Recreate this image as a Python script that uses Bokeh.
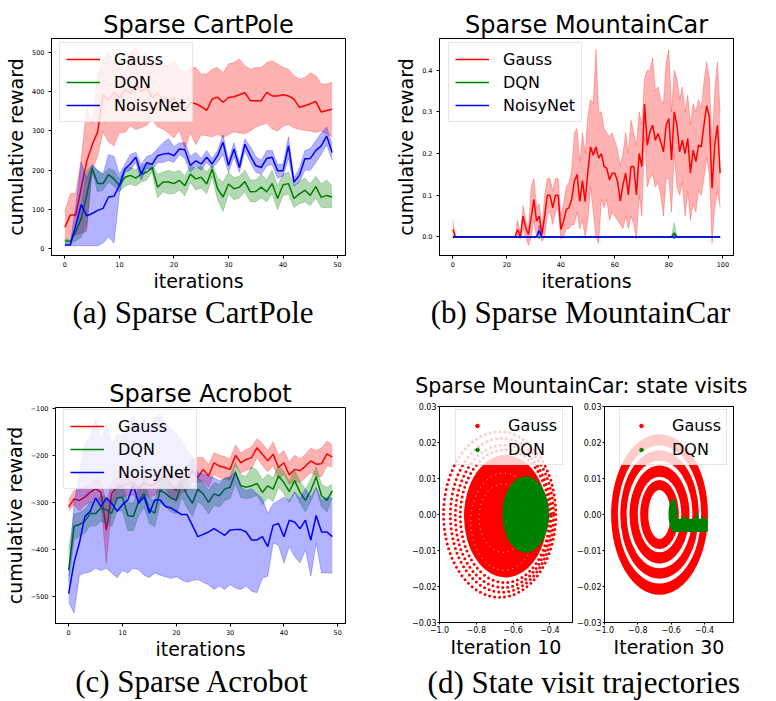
from bokeh.plotting import figure
from bokeh.layouts import row, column
from bokeh.models import Range1d, FixedTicker, Legend, LegendItem, Label
from bokeh.embed import file_html
from bokeh.resources import INLINE

SANS = "DejaVu Sans"
SERIF = "Liberation Serif"
RED, GREEN, BLUE = "#ff0000", "#008000", "#0000ff"
NAN = float("nan")

# ---------------- (a) Sparse CartPole ----------------
a_iterations = list(range(50))
a_gauss_mean = [55, 86, 86, 155, 222, 264, 297, 392, 378, 398,
                385, 405, 395, 420, 400, 410, 385, 395, 380, 370,
                385, 360, 350, 372, 369, 362, 352, 381, 386, 373,
                385, 387, 392, 397, 377, 377, 377, 398, 389, 389,
                392, 389, 381, 360, 364, 369, 375, 348, 352, 355]
a_gauss_upper = [95, 140, 142, 230, 360, 320, 440, 480, 500, 470,
                 480, 450, 500, 510, 490, 500, 470, 490, 470, 465,
                 480, 455, 450, 462, 461, 445, 445, 457, 461, 448,
                 470, 474, 483, 466, 457, 461, 461, 474, 478, 470,
                 461, 457, 440, 432, 436, 448, 440, 419, 419, 424]
a_gauss_lower = [20, 30, 35, 40, 45, 200, 235, 298, 272, 262,
                 296, 296, 313, 304, 308, 315, 329, 310, 305, 295,
                 282, 303, 254, 296, 265, 290, 288, 285, 292, 283,
                 290, 298, 295, 293, 300, 310, 315, 320, 305, 300,
                 312, 316, 308, 304, 302, 300, 296, 300, 292, 285]
a_dqn_mean = [20, 20, 44, 77, 136, 205, 166, 166, 189, 178,
              161, 182, 187, 180, 190, 195, 207, 157, 170, 170,
              166, 174, 161, 190, 178, 182, 165, 203, 153, 132,
              165, 153, 157, 171, 145, 146, 157, 145, 166, 128,
              163, 166, 128, 140, 149, 136, 159, 131, 136, 132]
a_dqn_upper = [25, 25, 50, 110, 200, 212, 200, 190, 205, 200,
               178, 205, 208, 200, 212, 215, 215, 190, 195, 200,
               195, 200, 185, 212, 205, 210, 195, 215, 180, 170,
               195, 180, 185, 200, 175, 175, 190, 175, 200, 160,
               190, 195, 160, 170, 180, 165, 185, 165, 175, 160]
a_dqn_lower = [15, 15, 20, 30, 60, 195, 145, 150, 170, 160,
               145, 160, 165, 160, 170, 175, 195, 130, 145, 140,
               140, 150, 135, 170, 150, 155, 140, 185, 125, 95,
               140, 125, 130, 145, 120, 120, 130, 120, 140, 100,
               135, 140, 105, 115, 120, 110, 130, 105, 105, 105]
a_noisy_mean = [10, 10, 60, 113, 84, 90, 98, 103, 132, 134,
                161, 203, 216, 233, 190, 219, 215, 237, 241, 243,
                237, 254, 252, 212, 224, 216, 233, 216, 237, 271,
                212, 254, 207, 266, 237, 212, 207, 230, 233, 199,
                199, 262, 170, 187, 229, 230, 250, 262, 287, 245]
a_noisy_upper = [15, 15, 110, 220, 180, 215, 200, 190, 240, 235,
                 190, 215, 240, 245, 215, 235, 240, 255, 270, 280,
                 260, 270, 270, 235, 245, 230, 250, 230, 250, 290,
                 225, 270, 220, 280, 260, 235, 225, 250, 250, 215,
                 215, 285, 180, 205, 250, 255, 275, 295, 310, 265]
a_noisy_lower = [8, 8, 8, 8, 8, 8, 8, 15, 30, 15,
                 140, 195, 200, 220, 175, 205, 200, 220, 220, 225,
                 220, 240, 230, 195, 210, 200, 220, 205, 220, 240,
                 195, 235, 195, 250, 220, 195, 190, 210, 215, 180,
                 185, 230, 160, 170, 200, 200, 220, 240, 265, 225]
a_xticks = [0, 10, 20, 30, 40, 50]
a_xtick_labels = ["0", "10", "20", "30", "40", "50"]
a_yticks = [0, 100, 200, 300, 400, 500]
a_ytick_labels = ["0", "100", "200", "300", "400", "500"]

# ---------------- (b) Sparse MountainCar ----------------
b_iterations = list(range(100))
b_gauss_mean = [0.018, 0, 0, 0, 0, 0, 0, 0, 0, 0,
                0, 0, 0, 0, 0, 0, 0, 0, 0, 0,
                0, 0, 0, 0, 0.018, 0, 0.05, 0.022, 0.006, 0.046,
                0.09, 0.038, 0.05, 0.006, 0.05, 0.10, 0.10, 0.07, 0.10, 0.10,
                0.018, 0.038, 0.066, 0.07, 0.09, 0.133, 0.15, 0.085, 0.135, 0.085,
                0.157, 0.216, 0.196, 0.216, 0.189, 0.20, 0.169, 0.165, 0.137, 0.153,
                0.153, 0.133, 0.086, 0.125, 0.153, 0.101, 0.169, 0.169, 0.101, 0.20,
                0.169, 0.319, 0.22, 0.252, 0.268, 0.232, 0.248, 0.228, 0.204, 0.268,
                0.284, 0.185, 0.30, 0.268, 0.204, 0.232, 0.20, 0.236, 0.153, 0.208,
                0.181, 0.22, 0.216, 0.268, 0.315, 0.288, 0.117, 0.22, 0.268, 0.153]
b_gauss_upper = [0.04, 0, 0, 0, 0, 0, 0, 0, 0, 0,
                 0, 0, 0, 0, 0, 0, 0, 0, 0, 0,
                 0, 0, 0, 0, 0.04, 0.005, 0.075, 0.04, 0.02, 0.12,
                 0.14, 0.07, 0.08, 0.02, 0.10, 0.14, 0.14, 0.11, 0.14, 0.14,
                 0.05, 0.08, 0.12, 0.13, 0.16, 0.25, 0.26, 0.18, 0.25, 0.20,
                 0.29, 0.33, 0.32, 0.45, 0.30, 0.30, 0.26, 0.25, 0.24, 0.25,
                 0.23, 0.21, 0.17, 0.20, 0.25, 0.20, 0.28, 0.25, 0.22, 0.30,
                 0.27, 0.38, 0.40, 0.40, 0.43, 0.35, 0.36, 0.33, 0.32, 0.42,
                 0.45, 0.30, 0.40, 0.38, 0.33, 0.36, 0.30, 0.34, 0.27, 0.32,
                 0.30, 0.33, 0.31, 0.37, 0.42, 0.38, 0.22, 0.35, 0.42, 0.30]
b_gauss_lower = [-0.005, 0, 0, 0, 0, 0, 0, 0, 0, 0,
                 0, 0, 0, 0, 0, 0, 0, 0, 0, 0,
                 0, 0, 0, 0, 0.0, -0.005, 0.02, 0.0, -0.02, 0.0,
                 0.04, 0.0, 0.01, -0.01, 0.0, 0.055, 0.06, 0.03, 0.06, 0.07,
                 -0.005, 0.0, 0.02, 0.02, 0.03, 0.03, 0.06, 0.02, 0.04, 0.0,
                 0.04, 0.12, 0.06, 0.0, -0.015, 0.09, 0.07, 0.09, 0.04, 0.06,
                 0.05, 0.04, 0.03, 0.02, 0.05, 0.02, 0.05, 0.03, -0.005, 0.10,
                 0.05, 0.24, 0.12, 0.14, 0.15, 0.12, 0.13, 0.10, 0.05, 0.14,
                 0.14, 0.06, 0.20, 0.12, 0.10, 0.13, 0.05, 0.11, 0.04, 0.08,
                 0.06, 0.11, 0.10, 0.14, 0.19, 0.15, -0.015, 0.07, 0.11, 0.07]
b_dqn_mean = [0, 0, 0, 0, 0, 0, 0, 0, 0, 0,
              0, 0, 0, 0, 0, 0, 0, 0, 0, 0,
              0, 0, 0, 0, 0, 0, 0, 0, 0, 0,
              0, 0, 0, 0, 0, 0, 0, 0, 0, 0,
              0, 0, 0, 0, 0, 0, 0, 0, 0, 0,
              0, 0, 0, 0, 0, 0, 0, 0, 0, 0,
              0, 0, 0, 0, 0, 0, 0, 0, 0, 0,
              0, 0, 0, 0, 0, 0, 0, 0, 0, 0,
              0, 0, 0.01, 0, 0, 0, 0, 0, 0, 0,
              0, 0, 0, 0, 0, 0, 0, 0, 0, 0]
b_dqn_upper = [0, 0, 0, 0, 0, 0, 0, 0, 0, 0,
               0, 0, 0, 0, 0, 0, 0, 0, 0, 0,
               0, 0, 0, 0, 0, 0, 0, 0, 0, 0,
               0, 0, 0, 0, 0, 0, 0, 0, 0, 0,
               0, 0, 0, 0, 0, 0, 0, 0, 0, 0,
               0, 0, 0, 0, 0, 0, 0, 0, 0, 0,
               0, 0, 0, 0, 0, 0, 0, 0, 0, 0,
               0, 0, 0, 0, 0, 0, 0, 0, 0, 0,
               0, 0, 0.035, 0, 0, 0, 0, 0, 0, 0,
               0, 0, 0, 0, 0, 0, 0, 0, 0, 0]
b_dqn_lower = [0, 0, 0, 0, 0, 0, 0, 0, 0, 0,
               0, 0, 0, 0, 0, 0, 0, 0, 0, 0,
               0, 0, 0, 0, 0, 0, 0, 0, 0, 0,
               0, 0, 0, 0, 0, 0, 0, 0, 0, 0,
               0, 0, 0, 0, 0, 0, 0, 0, 0, 0,
               0, 0, 0, 0, 0, 0, 0, 0, 0, 0,
               0, 0, 0, 0, 0, 0, 0, 0, 0, 0,
               0, 0, 0, 0, 0, 0, 0, 0, 0, 0,
               0, 0, -0.004, 0, 0, 0, 0, 0, 0, 0,
               0, 0, 0, 0, 0, 0, 0, 0, 0, 0]
b_noisy_mean = [0, 0, 0, 0, 0, 0, 0, 0, 0, 0,
                0, 0, 0, 0, 0, 0, 0, 0, 0, 0,
                0, 0, 0, 0, 0, 0, 0, 0, 0, 0,
                0, 0, 0.015, 0, 0, 0, 0, 0, 0, 0,
                0, 0, 0, 0, 0, 0, 0, 0, 0, 0,
                0, 0, 0, 0, 0, 0, 0, 0, 0, 0,
                0, 0, 0, 0, 0, 0, 0, 0, 0, 0,
                0, 0, 0, 0, 0, 0, 0, 0, 0, 0,
                0, 0, 0, 0, 0, 0, 0, 0, 0, 0,
                0, 0, 0, 0, 0, 0, 0, 0, 0, 0]
b_noisy_upper = [0, 0, 0, 0, 0, 0, 0, 0, 0, 0,
                 0, 0, 0, 0, 0, 0, 0, 0, 0, 0,
                 0, 0, 0, 0, 0, 0, 0, 0, 0, 0,
                 0, 0, 0.028, 0, 0, 0, 0, 0, 0, 0,
                 0, 0, 0, 0, 0, 0, 0, 0, 0, 0,
                 0, 0, 0, 0, 0, 0, 0, 0, 0, 0,
                 0, 0, 0, 0, 0, 0, 0, 0, 0, 0,
                 0, 0, 0, 0, 0, 0, 0, 0, 0, 0,
                 0, 0, 0.004, 0, 0, 0, 0, 0, 0, 0,
                 0, 0, 0, 0, 0, 0, 0, 0, 0, 0]
b_noisy_lower = [0, 0, 0, 0, 0, 0, 0, 0, 0, 0,
                 0, 0, 0, 0, 0, 0, 0, 0, 0, 0,
                 0, 0, 0, 0, 0, 0, 0, 0, 0, 0,
                 0, 0, -0.004, 0, 0, 0, 0, 0, 0, 0,
                 0, 0, 0, 0, 0, 0, 0, 0, 0, 0,
                 0, 0, 0, 0, 0, 0, 0, 0, 0, 0,
                 0, 0, 0, 0, 0, 0, 0, 0, 0, 0,
                 0, 0, 0, 0, 0, 0, 0, 0, 0, 0,
                 0, 0, -0.004, 0, 0, 0, 0, 0, 0, 0,
                 0, 0, 0, 0, 0, 0, 0, 0, 0, 0]
b_xticks = [0, 20, 40, 60, 80, 100]
b_xtick_labels = ["0", "20", "40", "60", "80", "100"]
b_yticks = [0.0, 0.1, 0.2, 0.3, 0.4]
b_ytick_labels = ["0.0", "0.1", "0.2", "0.3", "0.4"]

# ---------------- (c) Sparse Acrobot ----------------
c_iterations = list(range(50))
c_gauss_mean = [-310, -293, -296, -289, -279, -271, -279, -359, -281, -267,
                -265, -261, -258, -271, -258, -265, -262, -251, -244, -265,
                -275, -255, -250, -233, -247, -230, -244, -216, -223, -226,
                -230, -200, -216, -209, -205, -184, -198, -212, -198, -226,
                -216, -242, -230, -233, -223, -212, -219, -218, -197, -204]
c_gauss_upper = [-295, -275, -272, -268, -260, -250, -255, -300, -258, -245,
                 -240, -236, -232, -245, -232, -240, -238, -228, -220, -240,
                 -250, -230, -225, -208, -205, -205, -220, -195, -200, -203,
                 -208, -178, -195, -188, -182, -165, -175, -190, -172, -200,
                 -190, -215, -200, -208, -198, -185, -190, -185, -170, -178]
c_gauss_lower = [-318, -305, -318, -305, -300, -292, -300, -430, -305, -290,
                 -290, -285, -285, -295, -282, -290, -285, -275, -268, -290,
                 -300, -280, -275, -258, -257, -255, -268, -240, -248, -250,
                 -252, -222, -238, -232, -228, -205, -222, -235, -222, -250,
                 -240, -262, -255, -258, -248, -236, -245, -245, -222, -225]
c_dqn_mean = [-444, -351, -347, -340, -324, -324, -312, -316, -323, -291,
              -289, -328, -330, -298, -281, -316, -323, -274, -281, -291,
              -295, -260, -284, -302, -272, -282, -300, -282, -286, -272,
              -268, -237, -265, -268, -265, -260, -279, -265, -272, -244,
              -258, -277, -254, -279, -296, -275, -246, -286, -296, -275]
c_dqn_upper = [-400, -325, -322, -315, -300, -298, -285, -290, -295, -262,
               -262, -300, -302, -270, -255, -290, -298, -248, -255, -265,
               -268, -235, -258, -275, -248, -258, -275, -258, -262, -248,
               -245, -215, -242, -245, -225, -232, -252, -240, -248, -222,
               -235, -255, -232, -256, -272, -252, -225, -262, -268, -262]
c_dqn_lower = [-470, -380, -372, -365, -350, -350, -340, -345, -352, -318,
               -318, -360, -360, -328, -310, -345, -352, -302, -310, -320,
               -325, -290, -312, -330, -298, -308, -325, -306, -310, -296,
               -292, -260, -290, -292, -290, -285, -305, -290, -298, -268,
               -282, -300, -278, -302, -320, -298, -270, -310, -320, -290]
c_noisy_mean = [-494, -428, -386, -330, -319, -291, -309, -291, -302, -319,
                -305, -295, -263, -302, -288, -323, -295, -295, -309, -312,
                -319, -326, -326, -349, -373, -368, -363, -356, -363, -370,
                -359, -358, -358, -363, -380, -380, -373, -394, -349, -345,
                -373, -338, -342, -356, -338, -380, -328, -363, -363, -373]
c_noisy_upper = [-455, -300, -240, -176, -162, -123, -169, -134, -176, -158,
                 -155, -141, -116, -144, -123, -141, -120, -113, -134, -144,
                 -155, -169, -190, -204, -237, -240, -244, -248, -254, -250,
                 -247, -233, -268, -275, -271, -282, -292, -324, -303, -296,
                 -289, -296, -278, -292, -271, -289, -268, -296, -289, -292]
c_noisy_lower = [-512, -535, -455, -450, -448, -440, -445, -440, -450, -460,
                 -445, -450, -440, -443, -455, -460, -450, -455, -458, -462,
                 -458, -465, -470, -466, -464, -470, -475, -485, -478, -485,
                 -475, -482, -485, -478, -489, -492, -461, -457, -387, -391,
                 -429, -394, -415, -429, -401, -457, -387, -450, -450, -450]
c_yticks = [-500, -400, -300, -200, -100]
c_ytick_labels = ["\u2212500", "\u2212400", "\u2212300", "\u2212200", "\u2212100"]

# ---------------- (d) state visits ----------------
d_xticks = [-1.0, -0.8, -0.6, -0.4]
d_xtick_labels = ["\u22121.0", "\u22120.8", "\u22120.6", "\u22120.4"]
d_yticks = [-0.03, -0.02, -0.01, 0.0, 0.01, 0.02, 0.03]
d_ytick_labels = ["\u22120.03", "\u22120.02", "\u22120.01", "0.00", "0.01", "0.02", "0.03"]
# Iteration 10: Gauss outer trajectory rings, dense core, DQN blob
it10_ring_x = [-0.673, -0.6605, -0.653, -0.6445]
it10_ring_y = [0.0, -0.0002, -0.0005, -0.00045]
it10_ring_w = [0.610, 0.561, 0.522, 0.485]
it10_ring_h = [0.0460, 0.0428, 0.0396, 0.0369]
it10_core_x = [-0.640]
it10_core_y = [-0.0005]
it10_core_w = [0.454]
it10_core_h = [0.034]
it10_gap_x = [-0.650, -0.655]
it10_gap_y = [-0.002, -0.001]
it10_gap_w = [0.36, 0.26]
it10_gap_h = [0.027, 0.019]
it10_dqn_x = [-0.531]
it10_dqn_y = [0.0]
it10_dqn_w = [0.255]
it10_dqn_h = [0.0212]
# Iteration 30: Gauss concentric bands, DQN blob + strip
it30_band_x = [-0.670, -0.670, -0.670, -0.670]
it30_band_y = [0.0, 0.0, 0.0, 0.0]
it30_band_outer_w = [0.581, 0.471, 0.360, 0.232]
it30_band_outer_h = [0.0446, 0.0357, 0.0272, 0.0192]
it30_band_inner_w = [0.500, 0.395, 0.261, 0.135]
it30_band_inner_h = [0.0384, 0.0299, 0.0210, 0.0136]
it30_dqn_blob_x = [-0.590]
it30_dqn_blob_y = [0.0]
it30_dqn_blob_w = [0.052]
it30_dqn_blob_h = [0.0086]
it30_dqn_strip_x = [-0.4865]
it30_dqn_strip_y = [-0.003]
it30_dqn_strip_w = [0.213]
it30_dqn_strip_h = [0.0037]
it30_dqn_bump_x = [-0.52, -0.445, -0.405]
it30_dqn_bump_y = [-0.0022, -0.0012, -0.0025]
it30_dqn_bump_w = [0.03, 0.022, 0.02]
it30_dqn_bump_h = [0.004, 0.0035, 0.004]


def make_fig(w, h, xr, yr, borders, title=None):
    l, r, t, b = borders
    p = figure(width=w, height=h, x_range=Range1d(*xr), y_range=Range1d(*yr),
               output_backend="svg", toolbar_location=None, title=title,
               min_border_left=l, min_border_right=r, min_border_top=t, min_border_bottom=b,
               frame_align=False)
    p.background_fill_color = "white"
    p.border_fill_color = "white"
    p.outline_line_color = "black"
    p.outline_line_width = 1
    p.outline_line_alpha = 1
    p.xgrid.visible = False
    p.ygrid.visible = False
    if title:
        p.title.text_font = SANS
        p.title.text_font_size = "24px"
        p.title.text_font_style = "normal"
        p.title.text_color = "black"
        p.title.align = "center"
        p.title.standoff = 0
    return p


def style_axes(p, xt, xl, yt, yl, tick_size, tick_out, lab_standoff, ax_standoff,
               xlabel=None, ylabel=None):
    for ax in p.axis:
        ax.axis_line_color = "black"
        ax.major_tick_line_color = "black"
        ax.major_tick_out = tick_out
        ax.major_tick_in = 0
        ax.minor_tick_line_color = None
        ax.major_label_text_font = SANS
        ax.major_label_text_font_size = tick_size
        ax.major_label_text_color = "black"
        ax.major_label_standoff = lab_standoff
        ax.axis_label_text_font = SANS
        ax.axis_label_text_font_size = "19px"
        ax.axis_label_text_font_style = "normal"
        ax.axis_label_text_color = "black"
        ax.axis_label_standoff = ax_standoff
    p.xaxis.ticker = FixedTicker(ticks=xt)
    p.xaxis.major_label_overrides = {v: s for v, s in zip(xt, xl)}
    p.yaxis.ticker = FixedTicker(ticks=yt)
    p.yaxis.major_label_overrides = {v: s for v, s in zip(yt, yl)}
    if xlabel:
        p.xaxis.axis_label = xlabel
    if ylabel:
        p.yaxis.axis_label = ylabel


def series(p, xs, mean, lo, hi, color):
    p.varea(x=xs, y1=lo, y2=hi, fill_color=color, fill_alpha=0.3)
    p.line(x=xs, y=hi, line_color=color, line_alpha=0.25, line_width=1)
    p.line(x=xs, y=lo, line_color=color, line_alpha=0.25, line_width=1)
    return p.line(x=xs, y=mean, line_color=color, line_width=1.5)


def add_legend(p, items, loc, glyph_w=34, glyph_h=20, standoff=14, padding=6, spacing=3):
    leg = Legend(items=[LegendItem(label=t, renderers=[r]) for t, r in items],
                 location=loc, margin=0, padding=padding, spacing=spacing,
                 glyph_width=glyph_w, glyph_height=glyph_h, label_height=20,
                 label_standoff=standoff, label_text_font=SANS,
                 label_text_font_size="16px", label_text_color="black",
                 border_line_color="#cccccc", border_line_width=1,
                 background_fill_color="white", background_fill_alpha=0.8)
    p.add_layout(leg)


def text_fig(w, h, text, x, y, size, font):
    f = figure(width=w, height=h, x_range=Range1d(0, w), y_range=Range1d(0, h),
               output_backend="svg", toolbar_location=None, title=None,
               x_axis_location=None, y_axis_location=None, min_border=0,
               frame_align=False)
    f.outline_line_color = None
    f.background_fill_color = "white"
    f.border_fill_color = "white"
    f.xgrid.visible = False
    f.ygrid.visible = False
    f.add_layout(Label(x=x, y=y, text=text, text_align="center",
                       text_baseline="middle", text_font=font,
                       text_font_size=size, text_color="black"))
    return f


# ---- panel a ----
pa = make_fig(388, 294, (-2.45, 51.45), (-16.8, 535), (51, 43, 38, 37), "Sparse CartPole")
style_axes(pa, a_xticks, a_xtick_labels, a_yticks, a_ytick_labels, "6.5px", 3, 4, 2,
           "iterations", "cumulative reward")
pa.xaxis.major_label_standoff = 3
pa.xaxis.axis_label_standoff = 0
ra1 = series(pa, a_iterations, a_gauss_mean, a_gauss_lower, a_gauss_upper, RED)
ra2 = series(pa, a_iterations, a_dqn_mean, a_dqn_lower, a_dqn_upper, GREEN)
ra3 = series(pa, a_iterations, a_noisy_mean, a_noisy_lower, a_noisy_upper, BLUE)
add_legend(pa, [("Gauss", ra1), ("DQN", ra2), ("NoisyNet", ra3)], (8, 133))
cap_a = text_fig(388, 56, "(a) Sparse CartPole", 192.5, 38.5, "31px", SERIF)

# ---- panel b ----
pb = make_fig(388, 294, (-4.95, 103.95), (-0.0444, 0.476), (51, 43, 38, 37), "Sparse MountainCar")
style_axes(pb, b_xticks, b_xtick_labels, b_yticks, b_ytick_labels, "6.5px", 3, 4, 2,
           "iterations", "cumulative reward")
pb.xaxis.major_label_standoff = 3
pb.xaxis.axis_label_standoff = 0
rb1 = series(pb, b_iterations, b_gauss_mean, b_gauss_lower, b_gauss_upper, RED)
rb2 = series(pb, b_iterations, b_dqn_mean, b_dqn_lower, b_dqn_upper, GREEN)
rb3 = series(pb, b_iterations, b_noisy_mean, b_noisy_lower, b_noisy_upper, BLUE)
add_legend(pb, [("Gauss", rb1), ("DQN", rb2), ("NoisyNet", rb3)], (9, 133))
cap_b = text_fig(388, 56, "(b) Sparse MountainCar", 192, 38.5, "31px", SERIF)

# ---- panel c ----
pc = make_fig(388, 312, (-2.45, 51.45), (-557.4, -98.6), (51, 43, 57, 37), "Sparse Acrobot")
style_axes(pc, a_xticks, a_xtick_labels, c_yticks, c_ytick_labels, "6.5px", 3, 4, 2,
           "iterations", "cumulative reward")
pc.xaxis.major_label_standoff = 3
pc.xaxis.axis_label_standoff = 0
rc1 = series(pc, c_iterations, c_gauss_mean, c_gauss_lower, c_gauss_upper, RED)
rc2 = series(pc, c_iterations, c_dqn_mean, c_dqn_lower, c_dqn_upper, GREEN)
rc3 = series(pc, c_iterations, c_noisy_mean, c_noisy_lower, c_noisy_upper, BLUE)
add_legend(pc, [("Gauss", rc1), ("DQN", rc2), ("NoisyNet", rc3)], (8, 134))
cap_c = text_fig(388, 39, "(c) Sparse Acrobot", 191.7, 20.5, "31px", SERIF)

# ---- panel d ----
title_d = text_fig(388, 50, "Sparse MountainCar: state visits", 192.8, 15, "20.5px", SANS)

d1 = make_fig(185, 260, (-1.0, -0.277), (-0.03, 0.03), (51, 1, 6, 34))
style_axes(d1, d_xticks, d_xtick_labels, d_yticks, d_ytick_labels, "8px", 2, 1, 0,
           "Iteration 10", None)
d1.ellipse(x=it10_ring_x, y=it10_ring_y, width=it10_ring_w, height=it10_ring_h,
           fill_color=None, line_color=RED, line_width=3, line_dash="0 5", line_cap="round")
d1.ellipse(x=it10_core_x, y=it10_core_y, width=it10_core_w, height=it10_core_h,
           fill_color=RED, line_color=None)
d1.ellipse(x=it10_gap_x, y=it10_gap_y, width=it10_gap_w, height=it10_gap_h,
           fill_color=None, line_color="white", line_width=1, line_dash="1 4", line_alpha=0.8)
d1.ellipse(x=it10_dqn_x, y=it10_dqn_y, width=it10_dqn_w, height=it10_dqn_h,
           fill_color=GREEN, line_color=None)
g1 = d1.scatter(x=[NAN], y=[NAN], size=4, color=RED)
q1 = d1.scatter(x=[NAN], y=[NAN], size=4, color=GREEN)
add_legend(d1, [("Gauss", g1), ("DQN", q1)], (16, 157), glyph_w=32, glyph_h=9,
           standoff=15, padding=5, spacing=4)

d2 = make_fig(203, 260, (-1.0, -0.226), (-0.03, 0.03), (27, 43, 6, 34))
style_axes(d2, d_xticks, d_xtick_labels, d_yticks, d_ytick_labels, "8px", 2, 1, 0,
           "Iteration 30", None)
for i in range(len(it30_band_x)):
    d2.ellipse(x=[it30_band_x[i]], y=[it30_band_y[i]], width=[it30_band_outer_w[i]],
               height=[it30_band_outer_h[i]], fill_color=RED, line_color=None)
    d2.ellipse(x=[it30_band_x[i]], y=[it30_band_y[i]], width=[it30_band_inner_w[i]],
               height=[it30_band_inner_h[i]], fill_color="white", line_color=None)
d2.ellipse(x=it30_dqn_blob_x, y=it30_dqn_blob_y, width=it30_dqn_blob_w, height=it30_dqn_blob_h,
           fill_color=GREEN, line_color=None)
d2.rect(x=it30_dqn_strip_x, y=it30_dqn_strip_y, width=it30_dqn_strip_w, height=it30_dqn_strip_h,
        fill_color=GREEN, line_color=None)
d2.ellipse(x=it30_dqn_bump_x, y=it30_dqn_bump_y, width=it30_dqn_bump_w, height=it30_dqn_bump_h,
           fill_color=GREEN, line_color=None)
g2 = d2.scatter(x=[NAN], y=[NAN], size=4, color=RED)
q2 = d2.scatter(x=[NAN], y=[NAN], size=4, color=GREEN)
add_legend(d2, [("Gauss", g2), ("DQN", q2)], (15, 157), glyph_w=32, glyph_h=9,
           standoff=15, padding=5, spacing=4)

cap_d = text_fig(388, 41, "(d) State visit trajectories", 195.3, 19.3, "31px", SERIF)

layout = column(
    row(column(pa, cap_a), column(pb, cap_b)),
    row(column(pc, cap_c), column(title_d, row(d1, d2), cap_d)),
)

open("out.html", "w").write(file_html(layout, INLINE, title="Sparse exploration"))
